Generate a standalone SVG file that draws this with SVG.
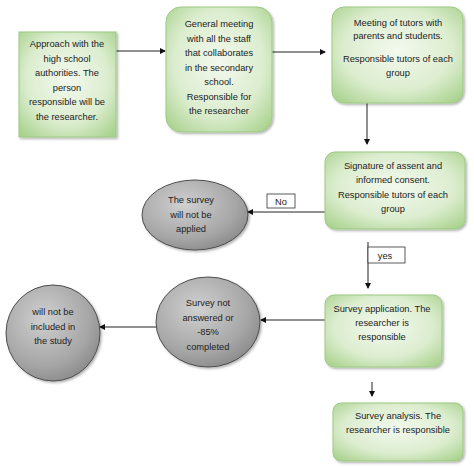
<svg xmlns="http://www.w3.org/2000/svg" width="474" height="467" viewBox="0 0 474 467">
<defs>
<radialGradient id="g" cx="50%" cy="45%" r="70%">
<stop offset="0" stop-color="#f3f9ee"/>
<stop offset="0.6" stop-color="#dcedcf"/>
<stop offset="1" stop-color="#a9d28e"/>
</radialGradient>
<radialGradient id="gr" cx="40%" cy="35%" r="70%">
<stop offset="0" stop-color="#d0d0d0"/>
<stop offset="0.7" stop-color="#a6a6a6"/>
<stop offset="1" stop-color="#8a8a8a"/>
</radialGradient>
<filter id="sh" x="-10%" y="-10%" width="125%" height="125%">
<feDropShadow dx="1.5" dy="1.5" stdDeviation="1" flood-color="#000" flood-opacity="0.3"/>
</filter>
<marker id="ah" markerWidth="6" markerHeight="6" refX="5" refY="3" orient="auto" markerUnits="userSpaceOnUse">
<path d="M0,0 L6,3 L0,6 z" fill="#111"/>
</marker>
</defs>
<style>
.box{fill:url(#g);stroke:#9cc982;stroke-width:1;filter:url(#sh)}
.ell{fill:url(#gr);stroke:#4d4d4d;stroke-width:1;filter:url(#sh)}
text{font-family:"Liberation Sans",Arial,sans-serif;font-size:9.3px;fill:#222;text-anchor:middle}
.c{stroke:#222;stroke-width:1;fill:none}
.lbl{fill:#fff;stroke:#333;stroke-width:0.8}
</style>
<rect width="474" height="467" fill="#fff"/>
<g id="connectors">
<line class="c" x1="116" y1="51" x2="165" y2="51" marker-end="url(#ah)"/>
<line class="c" x1="272" y1="52" x2="325" y2="52" marker-end="url(#ah)"/>
<line class="c" x1="367" y1="103" x2="367" y2="144" marker-end="url(#ah)"/>
<line class="c" x1="325" y1="212" x2="248" y2="212" marker-end="url(#ah)"/>
<line class="c" x1="368" y1="242" x2="368" y2="288" marker-end="url(#ah)"/>
<line class="c" x1="325" y1="320" x2="261" y2="320" marker-end="url(#ah)"/>
<line class="c" x1="156" y1="327" x2="100" y2="327" marker-end="url(#ah)"/>
<line class="c" x1="372" y1="382" x2="372" y2="396" marker-end="url(#ah)"/>
<g id="label-no">
<rect class="lbl" x="267" y="194" width="28" height="14"/>
<text x="281" y="204.5">No</text>
</g>
<g id="label-yes">
<rect class="lbl" x="368" y="247" width="37" height="16"/>
<text x="385" y="258.5">yes</text>
</g>
</g>
<g id="n1">
<rect class="box" x="19" y="32" width="97" height="105"/>
<text x="67" y="47">Approach with the</text>
<text x="67" y="61.5">high school</text>
<text x="67" y="76">authorities. The</text>
<text x="67" y="90.5">person</text>
<text x="67" y="105">responsible will be</text>
<text x="67" y="120">the researcher.</text>
</g>
<g id="n2">
<rect class="box" x="166" y="7" width="106" height="125" rx="15"/>
<text x="219" y="27">General meeting</text>
<text x="219" y="41.5">with all the staff</text>
<text x="219" y="56">that collaborates</text>
<text x="219" y="70.5">in the secondary</text>
<text x="219" y="85">school.</text>
<text x="219" y="99.5">Responsible for</text>
<text x="219" y="114">the researcher</text>
</g>
<g id="n3">
<rect class="box" x="332" y="7" width="131" height="96" rx="12"/>
<text x="398" y="26">Meeting of tutors with</text>
<text x="398" y="38.5">parents and students.</text>
<text x="398" y="62">Responsible tutors of each</text>
<text x="398" y="76">group</text>
</g>
<g id="n4">
<rect class="box" x="325" y="152" width="140" height="77" rx="10"/>
<text x="393" y="169">Signature of assent and</text>
<text x="393" y="183">informed consent.</text>
<text x="393" y="197.5">Responsible tutors of each</text>
<text x="393" y="212">group</text>
</g>
<g id="n5">
<ellipse class="ell" cx="195" cy="215" rx="53" ry="35"/>
<text x="191" y="203">The survey</text>
<text x="191" y="217.5">will not be</text>
<text x="191" y="232">applied</text>
</g>
<g id="n6">
<rect class="box" x="325" y="295" width="117" height="72" rx="9"/>
<text x="382" y="312">Survey application. The</text>
<text x="382" y="326">researcher is</text>
<text x="382" y="339.5">responsible</text>
</g>
<g id="n7">
<ellipse class="ell" cx="208" cy="322" rx="52" ry="45"/>
<text x="208" y="306">Survey not</text>
<text x="208" y="320.5">answered or</text>
<text x="208" y="335">-85%</text>
<text x="208" y="349.5">completed</text>
</g>
<g id="n8">
<ellipse class="ell" cx="53" cy="333" rx="47" ry="48"/>
<text x="53" y="315">will not be</text>
<text x="53" y="329.5">included in</text>
<text x="53" y="344">the study</text>
</g>
<g id="n9">
<rect class="box" x="333" y="403" width="130" height="58" rx="8"/>
<text x="398" y="419">Survey analysis. The</text>
<text x="398" y="432.5">researcher is responsible</text>
</g>
</svg>
